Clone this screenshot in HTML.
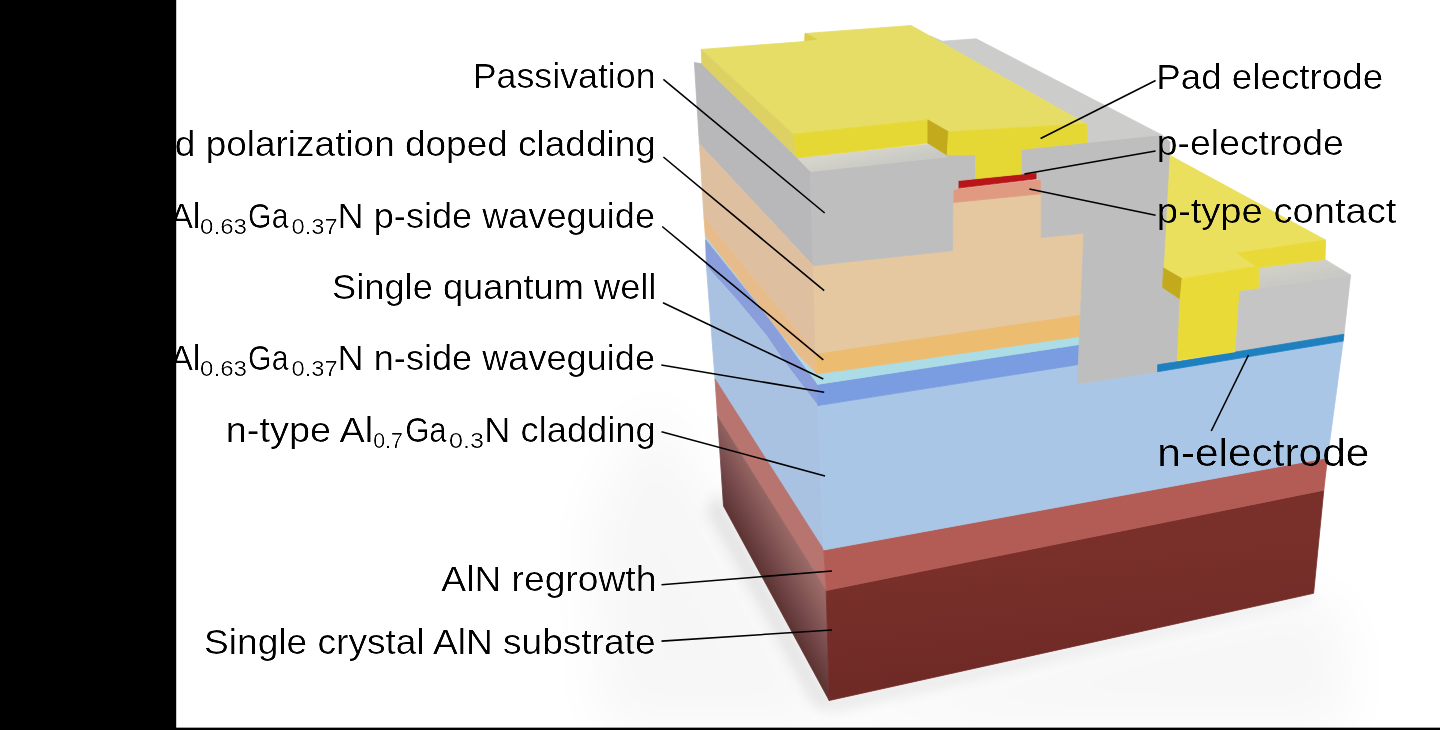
<!DOCTYPE html>
<html lang="en"><head><meta charset="utf-8"><title>Laser diode structure</title>
<style>
html,body{margin:0;padding:0;background:#000;}
body{width:1440px;height:730px;overflow:hidden;position:relative;font-family:"Liberation Sans",sans-serif;}
svg{position:absolute;left:0;top:0;display:block;}
svg text{font-family:"Liberation Sans",sans-serif;fill:#000;}
</style></head><body>
<svg width="1440" height="730" viewBox="0 0 1440 730">
<defs>
<linearGradient id="gdl" gradientUnits="userSpaceOnUse" x1="770" y1="592" x2="815" y2="567.5"><stop offset="0" stop-color="#5C3331"/><stop offset="0.35" stop-color="#74484A"/><stop offset="0.7" stop-color="#8C5E5C"/><stop offset="1" stop-color="#9E6E6A"/></linearGradient>
<linearGradient id="gdf" gradientUnits="userSpaceOnUse" x1="1000" y1="560" x2="1010" y2="670"><stop offset="0" stop-color="#79302A"/><stop offset="1" stop-color="#702A26"/></linearGradient>
<linearGradient id="ggt" gradientUnits="userSpaceOnUse" x1="870" y1="148" x2="874" y2="168"><stop offset="0" stop-color="#D6D5CC"/><stop offset="1" stop-color="#C8C8C4"/></linearGradient>
<linearGradient id="ggt2" gradientUnits="userSpaceOnUse" x1="1290" y1="262" x2="1294" y2="284"><stop offset="0" stop-color="#D2D1C8"/><stop offset="1" stop-color="#C8C8C4"/></linearGradient>
<radialGradient id="shadow" cx="0.5" cy="0.5" r="0.5"><stop offset="0" stop-color="#d8d8d8"/><stop offset="1" stop-color="#ffffff"/></radialGradient>
<filter id="blur" x="-30%" y="-30%" width="160%" height="160%"><feGaussianBlur stdDeviation="28"/></filter>
<filter id="thin" x="-2%" y="-20%" width="104%" height="140%"><feComponentTransfer><feFuncA type="linear" slope="1.5" intercept="-0.5"/></feComponentTransfer></filter>
<filter id="blur2" x="-30%" y="-30%" width="160%" height="160%"><feGaussianBlur stdDeviation="7"/></filter>
</defs>
<rect x="176" y="0" width="1264" height="727.8" fill="#fff"/>
<g filter="url(#blur)" opacity="0.03"><polygon points="650,400 723,506 829,700 1313,593 1345,620 1350,728 600,728 590,520" fill="#000"/></g>
<g filter="url(#blur2)" opacity="0.09"><polygon points="721,490 725,506 829,700 1313,593 1315,598 836,710 815,706 706,510" fill="#000"/></g>
<g shape-rendering="geometricPrecision">
<polygon points="694.4,62.5 701.9,63.8 797.3,157.7 810.4,171.6 813.1,265.6 699.4,143.8" fill="#B8B8BA" stroke="#B8B8BA" stroke-width="0.8" stroke-linejoin="round" />
<polygon points="699.4,143.8 813.1,265.6 815.8,353.5 704.0,217.5" fill="#DEBFA0" stroke="#DEBFA0" stroke-width="0.8" stroke-linejoin="round" />
<polygon points="704.0,217.5 815.8,353.5 816.4,374.1 800.0,357.5 779.0,332.4 760.5,307.8 705.4,236.9" fill="#E8BC8A" stroke="#E8BC8A" stroke-width="0.8" stroke-linejoin="round" />
<polygon points="705.4,236.9 760.5,307.8 779.0,332.4 800.0,357.5 816.4,374.1 817.1,384.4 798.5,359.3 780.5,334.6 762.0,310.0 705.6,239.7" fill="#B0D8E6" stroke="#B0D8E6" stroke-width="0.8" stroke-linejoin="round" />
<polygon points="705.6,239.7 762.0,310.0 780.5,334.6 798.5,359.3 817.1,384.4 817.8,405.6 802.0,385.0 782.0,358.5 766.0,335.0 737.0,300.0 706.4,266.0" fill="#8A9EDC" stroke="#8A9EDC" stroke-width="0.8" stroke-linejoin="round" />
<polygon points="706.4,266.0 737.0,300.0 766.0,335.0 782.0,358.5 802.0,385.0 817.8,405.6 823.8,550.0 715.0,379.0" fill="#AAC2E2" stroke="#AAC2E2" stroke-width="0.8" stroke-linejoin="round" />
<polygon points="715.0,379.0 823.8,550.0 826.2,590.5 717.5,416.5" fill="#B8746E" stroke="#B8746E" stroke-width="0.8" stroke-linejoin="round" />
<polygon points="717.5,416.5 826.2,590.5 829.2,700.5 723.5,506.0" fill="url(#gdl)" stroke="url(#gdl)" stroke-width="0.8" stroke-linejoin="round" />
<polygon points="826.2,590.5 1323.8,490.2 1313.6,593.3 829.2,700.5" fill="url(#gdf)" stroke="url(#gdf)" stroke-width="0.8" stroke-linejoin="round" />
<polygon points="823.8,550.0 1327.5,457.8 1323.8,490.2 826.2,590.5" fill="#B35C56" stroke="#B35C56" stroke-width="0.8" stroke-linejoin="round" />
<polygon points="817.8,405.6 1078.8,364.5 1077.5,384.0 1157.6,371.7 1343.2,341.1 1327.5,457.8 823.8,550.0" fill="#A9C6E6" stroke="#A9C6E6" stroke-width="0.8" stroke-linejoin="round" />
<polygon points="817.1,384.4 1079.5,344.5 1078.8,364.5 817.8,405.6" fill="#7A9CE0" stroke="#7A9CE0" stroke-width="0.8" stroke-linejoin="round" />
<polygon points="816.4,374.1 1079.5,336.5 1079.5,344.5 817.1,384.4" fill="#ACDCE6" stroke="#ACDCE6" stroke-width="0.8" stroke-linejoin="round" />
<polygon points="815.8,353.5 1080.0,314.5 1079.5,336.5 816.4,374.1" fill="#ECBC70" stroke="#ECBC70" stroke-width="0.8" stroke-linejoin="round" />
<polygon points="813.1,265.6 952.5,250.6 953.1,202.5 1041.2,193.8 1041.2,237.5 1083.8,233.2 1080.0,314.5 815.8,353.5" fill="#E5C7A0" stroke="#E5C7A0" stroke-width="0.8" stroke-linejoin="round" />
<polygon points="953.1,189.4 1041.2,179.4 1041.2,193.8 953.1,202.5" fill="#E09A82" stroke="#E09A82" stroke-width="0.8" stroke-linejoin="round" />
<polygon points="958.1,180.6 1036.9,172.5 1036.9,178.8 958.1,188.1" fill="#B81518" stroke="#B81518" stroke-width="0.8" stroke-linejoin="round" />
<polygon points="810.4,171.6 947.2,156.8 947.2,155.0 975.4,155.0 975.6,178.8 958.1,180.6 958.1,188.6 953.1,189.4 952.5,250.6 813.1,265.6" fill="#BEBEBE" stroke="#BEBEBE" stroke-width="0.8" stroke-linejoin="round" />
<polygon points="1160.0,150.0 1325.6,240.0 1236.9,253.1 1258.4,266.0 1182.1,278.7 1160.0,268.0" fill="#EBE05E" stroke="#EBE05E" stroke-width="0.8" stroke-linejoin="round" />
<polygon points="1021.2,149.4 1087.5,142.5 1161.4,134.7 1170.0,142.0 1163.4,268.0 1162.6,287.4 1180.1,299.1 1177.4,360.5 1157.6,364.8 1157.6,371.7 1077.5,384.0 1083.8,233.2 1041.2,237.5 1041.2,179.4 1036.9,178.8 1036.9,172.5 1021.2,174.1" fill="#BEBEBE" stroke="#BEBEBE" stroke-width="0.8" stroke-linejoin="round" />
<polygon points="1239.0,290.8 1350.6,275.0 1344.0,334.2 1234.7,351.8" fill="#C5C5C5" stroke="#C5C5C5" stroke-width="0.8" stroke-linejoin="round" />
<polygon points="1157.6,364.8 1344.0,334.2 1343.2,341.1 1157.6,371.7" fill="#1F80C0" stroke="#1F80C0" stroke-width="0.8" stroke-linejoin="round" />
<polygon points="930.0,36.0 942.5,41.2 976.2,38.8 1161.4,134.7 1087.5,142.5 1086.2,123.8" fill="#CCCCCA" stroke="#CCCCCA" stroke-width="0.8" stroke-linejoin="round" />
<polygon points="797.3,157.7 928.3,144.2 947.2,155.2 947.2,156.8 810.4,171.6" fill="url(#ggt)" stroke="url(#ggt)" stroke-width="0.8" stroke-linejoin="round" />
<polygon points="1258.9,287.9 1258.5,267.5 1325.0,259.4 1350.6,275.0 1239.0,290.8" fill="url(#ggt2)" stroke="url(#ggt2)" stroke-width="0.8" stroke-linejoin="round" />
<polygon points="701.2,49.4 804.6,41.5 805.0,33.5 911.2,25.5 1086.2,123.8 948.5,131.8 927.9,119.9 793.3,134.2" fill="#E6DD66" stroke="#E6DD66" stroke-width="0.8" stroke-linejoin="round" />
<polygon points="805.2,33.2 816.5,39.2 805.0,40.6" fill="#D9CD4A" stroke="#D9CD4A" stroke-width="0.8" stroke-linejoin="round" />
<polygon points="701.2,49.4 793.3,134.2 797.3,157.7 701.9,63.8" fill="#DDD164" stroke="#DDD164" stroke-width="0.8" stroke-linejoin="round" />
<polygon points="793.3,134.2 927.9,119.9 927.9,143.3 797.3,157.7" fill="#E6D834" stroke="#E6D834" stroke-width="0.8" stroke-linejoin="round" />
<polygon points="927.9,119.9 948.5,131.8 947.2,155.2 927.9,143.3" fill="#C2AA1C" stroke="#C2AA1C" stroke-width="0.8" stroke-linejoin="round" />
<polygon points="948.5,131.8 1086.2,123.8 1087.5,142.5 1021.2,149.4 1021.2,174.1 975.6,178.8 975.4,155.0 947.2,155.0" fill="#E6D834" stroke="#E6D834" stroke-width="0.8" stroke-linejoin="round" />
<polygon points="1236.9,253.1 1325.6,240.0 1325.0,259.4 1258.5,267.5" fill="#E8D938" stroke="#E8D938" stroke-width="0.8" stroke-linejoin="round" />
<polygon points="1163.6,268.0 1182.1,278.7 1180.1,299.1 1162.6,287.4" fill="#C2AA1C" stroke="#C2AA1C" stroke-width="0.8" stroke-linejoin="round" />
<polygon points="1182.1,278.7 1258.4,266.0 1258.9,287.9 1239.0,290.8 1234.7,351.8 1177.4,360.5 1180.1,299.1" fill="#E9DA38" stroke="#E9DA38" stroke-width="0.8" stroke-linejoin="round" />
</g>
<g stroke="#000" stroke-width="1.6" stroke-linecap="butt"><line x1="663.4" y1="79.3" x2="824.7" y2="213"/><line x1="663.4" y1="157" x2="824.2" y2="290.7"/><line x1="662.2" y1="226.5" x2="823.3" y2="359.8"/><line x1="663" y1="302.8" x2="823.3" y2="379"/><line x1="661.3" y1="365" x2="824.2" y2="392.3"/><line x1="661.5" y1="431.7" x2="825" y2="476"/><line x1="661.5" y1="584.7" x2="832" y2="571"/><line x1="661.5" y1="641.1" x2="832" y2="630"/><line x1="1155.6" y1="80.5" x2="1040.6" y2="138.5"/><line x1="1155.6" y1="151" x2="1024.4" y2="174"/><line x1="1155.6" y1="215.3" x2="1029.4" y2="189"/><line x1="1248.5" y1="355" x2="1211.25" y2="431"/></g>
<g filter="url(#thin)">
<text x="472.67" y="88.05" font-size="35" textLength="182.96" lengthAdjust="spacingAndGlyphs">Passivation</text>
<text x="174.85" y="155.75" font-size="35" textLength="480.93" lengthAdjust="spacingAndGlyphs">d polarization doped cladding</text>
<text x="169.93" y="227.5" font-size="35" textLength="30.57" lengthAdjust="spacingAndGlyphs">Al</text>
<text x="200.06" y="233.9" font-size="21.5" textLength="46.90" lengthAdjust="spacingAndGlyphs">0.63</text>
<text x="248.08" y="227.5" font-size="35" textLength="40.42" lengthAdjust="spacingAndGlyphs">Ga</text>
<text x="291.47" y="233.9" font-size="21.5" textLength="46.12" lengthAdjust="spacingAndGlyphs">0.37</text>
<text x="337.64" y="227.5" font-size="35" textLength="317.37" lengthAdjust="spacingAndGlyphs">N p-side waveguide</text>
<text x="332.10" y="298.75" font-size="35" textLength="324.32" lengthAdjust="spacingAndGlyphs">Single quantum well</text>
<text x="169.93" y="370" font-size="35" textLength="30.57" lengthAdjust="spacingAndGlyphs">Al</text>
<text x="200.06" y="376.4" font-size="21.5" textLength="46.90" lengthAdjust="spacingAndGlyphs">0.63</text>
<text x="248.08" y="370" font-size="35" textLength="40.42" lengthAdjust="spacingAndGlyphs">Ga</text>
<text x="291.47" y="376.4" font-size="21.5" textLength="46.12" lengthAdjust="spacingAndGlyphs">0.37</text>
<text x="337.64" y="370" font-size="35" textLength="317.37" lengthAdjust="spacingAndGlyphs">N n-side waveguide</text>
<text x="225.82" y="441.6" font-size="35" textLength="147.38" lengthAdjust="spacingAndGlyphs">n-type Al</text>
<text x="373.17" y="448.0" font-size="21.5" textLength="29.60" lengthAdjust="spacingAndGlyphs">0.7</text>
<text x="405.13" y="441.6" font-size="35" textLength="41.57" lengthAdjust="spacingAndGlyphs">Ga</text>
<text x="449.02" y="448.0" font-size="21.5" textLength="34.78" lengthAdjust="spacingAndGlyphs">0.3</text>
<text x="484.33" y="441.6" font-size="35" textLength="171.31" lengthAdjust="spacingAndGlyphs">N cladding</text>
<text x="441.33" y="590.6" font-size="35" textLength="214.99" lengthAdjust="spacingAndGlyphs">AlN regrowth</text>
<text x="204.12" y="654.2" font-size="35" textLength="451.42" lengthAdjust="spacingAndGlyphs">Single crystal AlN substrate</text>
<text x="1156.18" y="88.8" font-size="35" textLength="227.05" lengthAdjust="spacingAndGlyphs">Pad electrode</text>
<text x="1156.79" y="154.5" font-size="35" textLength="187.07" lengthAdjust="spacingAndGlyphs">p-electrode</text>
<text x="1156.74" y="223" font-size="35" textLength="239.74" lengthAdjust="spacingAndGlyphs">p-type contact</text>
<text x="1157.18" y="466" font-size="39.5" textLength="212.20" lengthAdjust="spacingAndGlyphs">n-electrode</text>
</g>
<rect x="0" y="0" width="176.2" height="730" fill="#000"/>
<rect x="0" y="727.8" width="1440" height="2.2" fill="#000"/>
</svg>
</body></html>
